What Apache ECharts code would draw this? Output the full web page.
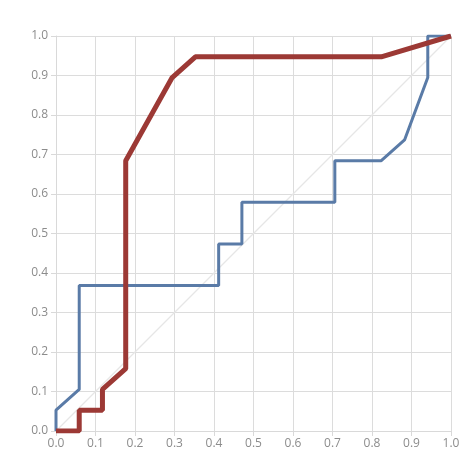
<!DOCTYPE html>
<html>
<head>
<meta charset="utf-8">
<script src="https://cdn.jsdelivr.net/npm/echarts@6/dist/echarts.min.js"></script>
<style>html,body{margin:0;padding:0;background:#fff;}#c{width:474px;height:467px;}</style>
</head>
<body>
<div id="c"></div>
<script>
var tickLabels = ['0.0','0.1','0.2','0.3','0.4','0.5','0.6','0.7','0.8','0.9','1.0'];
var diagX = [0, 1];
var diagY = [0, 1];
var blueX = [0, 0, 0.0588, 0.0588, 0.4118, 0.4118, 0.4706, 0.4706, 0.7059, 0.7059, 0.8235, 0.8824, 0.9412, 0.9412, 1];
var blueY = [0, 0.0526, 0.1053, 0.3684, 0.3684, 0.4737, 0.4737, 0.5789, 0.5789, 0.6842, 0.6842, 0.7368, 0.8947, 1, 1];
var redX = [0, 0.0588, 0.0588, 0.1176, 0.1176, 0.1765, 0.1765, 0.2941, 0.3529, 0.8235, 1];
var redY = [0, 0, 0.0526, 0.0526, 0.1053, 0.1579, 0.6842, 0.8947, 0.9474, 0.9474, 1];

function pairs(xs, ys){ return xs.map(function(x,i){ return [x, ys[i]]; }); }

var chart = echarts.init(document.getElementById('c'));
var axisCommon = {
  type: 'value', min: 0, max: 1, interval: 0.1,
  axisLine: { show: true, lineStyle: { color: '#d9d9d9', width: 1 } },
  axisTick: { show: true, length: 5, lineStyle: { color: '#d9d9d9' } },
  splitLine: { show: true, lineStyle: { color: '#dcdcdc', width: 1 } },
  axisLabel: {
    color: '#8c8c8c', fontSize: 12, fontFamily: 'Open Sans',
    formatter: function(v){ return tickLabels[Math.round(v*10)]; }
  }
};
chart.setOption({
  animation: false,
  grid: { left: 56, right: 23, top: 36, bottom: 36 },
  xAxis: Object.assign({}, axisCommon, { axisLabel: Object.assign({}, axisCommon.axisLabel, { margin: 7 }) }),
  yAxis: Object.assign({}, axisCommon, { axisLabel: Object.assign({}, axisCommon.axisLabel, { margin: 8 }) }),
  series: [
    { type: 'line', data: pairs(diagX, diagY), showSymbol: false, lineStyle: { color: '#e6e6e6', width: 1.2 }, z: 1 },
    { type: 'line', data: pairs(blueX, blueY), showSymbol: false, lineStyle: { color: '#5a7ba7', width: 3 }, z: 2 },
    { type: 'line', data: pairs(redX, redY), showSymbol: false, lineStyle: { color: '#9c3935', width: 5 }, z: 3 }
  ]
});
</script>
</body>
</html>
